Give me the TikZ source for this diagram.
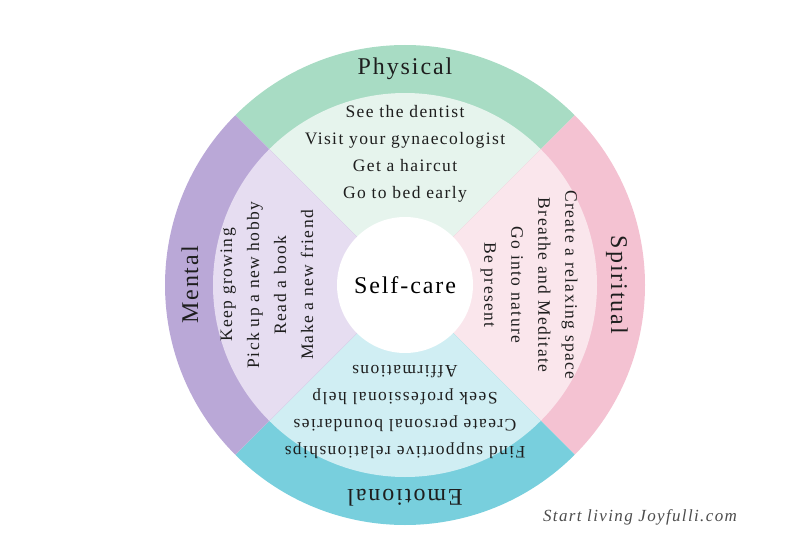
\documentclass[tikz,border=0pt]{standalone}
\usetikzlibrary{calc}
\usepackage{fontspec}
\setmainfont[LetterSpace=8]{Liberation Serif}
\definecolor{gO}{RGB}{168,220,196}\definecolor{gI}{RGB}{230,244,237}
\definecolor{pO}{RGB}{244,194,210}\definecolor{pI}{RGB}{250,230,236}
\definecolor{tO}{RGB}{120,207,221}\definecolor{tI}{RGB}{208,238,243}
\definecolor{vO}{RGB}{186,168,215}\definecolor{vI}{RGB}{230,221,241}
\definecolor{txt}{RGB}{30,30,30}
\begin{document}
\begin{tikzpicture}[x=1pt,y=1pt,
  items/.style={align=center,font=\fontsize{17.5}{27}\selectfont,text=txt},
  lab/.style={font=\fontsize{24}{28}\selectfont,text=txt}]
\useasboundingbox (0,0) rectangle (800,550);
\coordinate (C) at (405,265);
\foreach \a/\o/\i in {45/gO/gI,315/pO/pI,225/tO/tI,135/vO/vI}{
  \fill[\o] (C) -- ++(\a:240) arc(\a:\a+90:240) -- cycle;
  \fill[\i] (C) -- ++(\a:192) arc(\a:\a+90:192) -- cycle;
}
\fill[white] (C) circle (68);
\node[font=\fontsize{24}{28}\selectfont] (sc) at (C) {Self-care};
\node[lab] (ph) at ($(C)+(90:216)$) {Physical};
\node[lab,rotate=-90] (sp) at ($(C)+(0:212)$) {Spiritual};
\node[lab,rotate=180] (em) at ($(C)+(270:213)$) {Emotional};
\node[lab,rotate=90] (me) at ($(C)+(180:215)$) {Mental};
\node[items] (pi) at ($(C)+(90:131)$) {See the dentist\\Visit your gynaecologist\\Get a haircut\\Go to bed early};
\node[items,rotate=-90] (si) at ($(C)+(0:124)$) {Create a relaxing space\\Breathe and Meditate\\Go into nature\\Be present};
\node[items,rotate=180] (ei) at ($(C)+(270:127)$) {Find supportive relationships\\Create personal boundaries\\Seek professional help\\Affirmations};
\node[items,rotate=90] (mi) at ($(C)+(180:138)$) {Keep growing\\Pick up a new hobby\\Read a book\\Make a new friend};
\node[font=\itshape\fontsize{17}{20}\selectfont,text=black!70] (web) at (640,33) {Start living Joyfulli.com};
\end{tikzpicture}
\end{document}
